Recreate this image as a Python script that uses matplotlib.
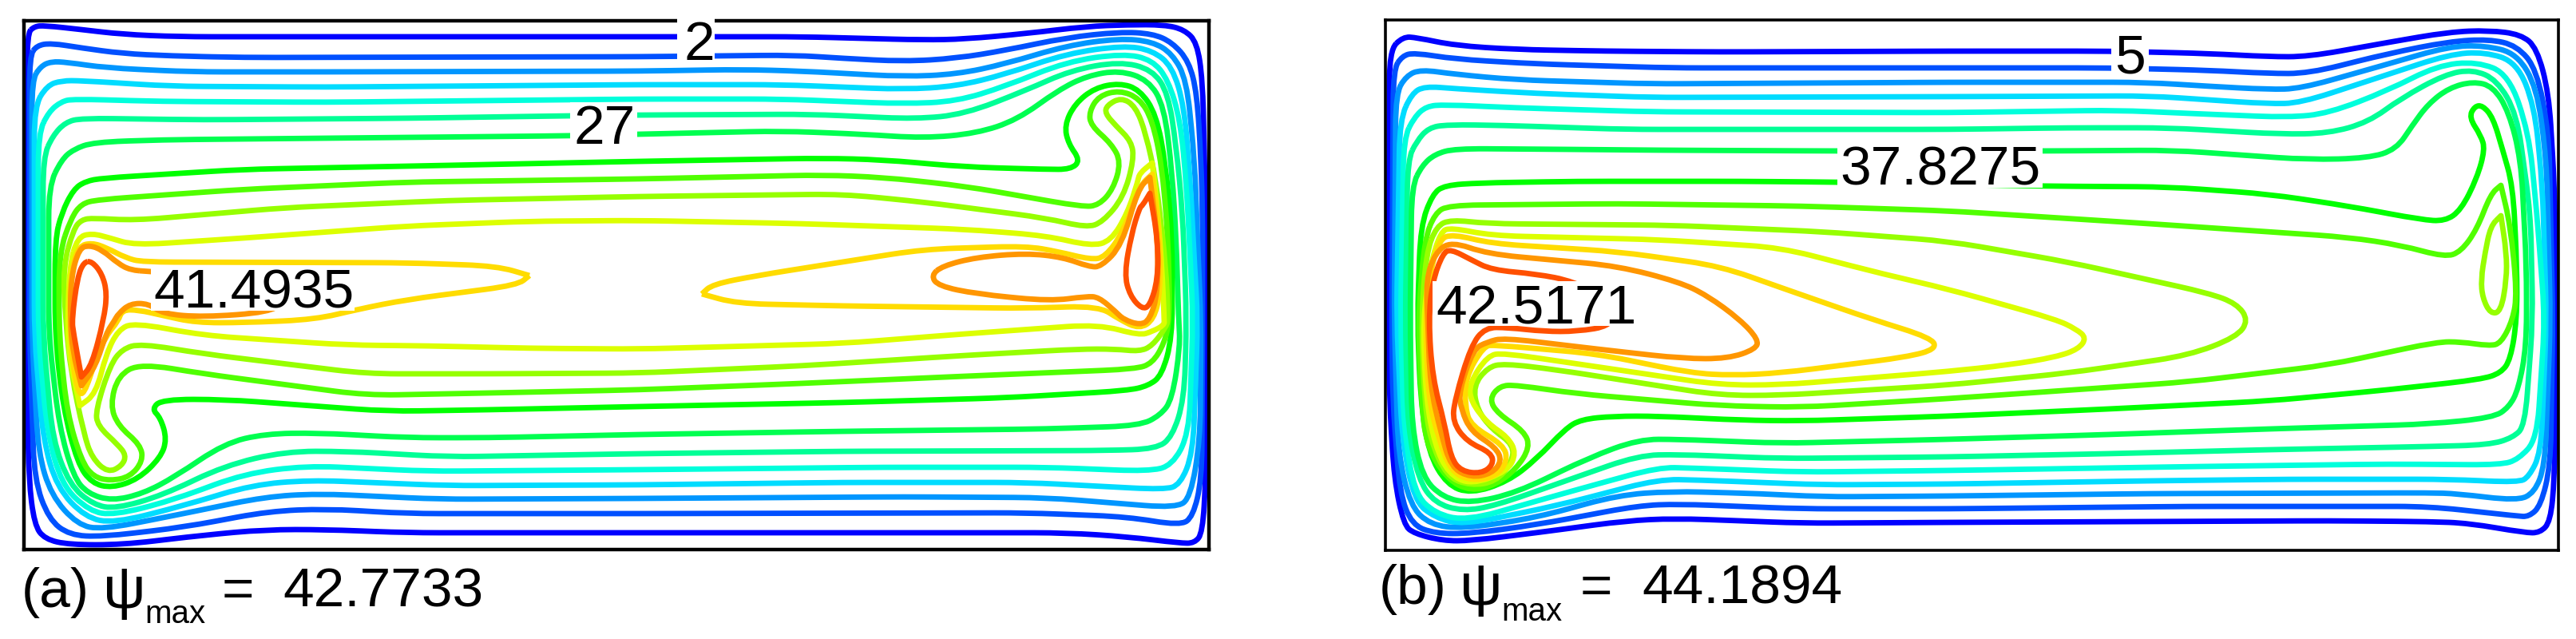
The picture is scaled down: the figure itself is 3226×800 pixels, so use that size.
import numpy as np
import matplotlib
matplotlib.use('Agg')
import matplotlib.pyplot as plt
from matplotlib.patches import Rectangle, PathPatch
from matplotlib.path import Path

plt.rcParams['font.family'] = ['Liberation Sans', 'DejaVu Sans']

# streamlines, in picture pixels (x right, y down)
# one colour per contour level, outermost first
level_colors = ['#0000ff', '#0050ff', '#0096ff', '#00dcff', '#00ffdc', '#00ff96', '#00ff50',
                '#00ff00', '#50ff00', '#96ff00', '#dcff00', '#ffdc00', '#ff9600', '#ff5000']

# panel (a)
a_line1 = [(34, 42), (43, 33), (56, 32), (102, 37), (153, 43), (224, 46), (1004, 46), (1080, 48), (1157, 50), (1208, 49),
           (1285, 42), (1361, 33), (1412, 31), (1458, 31), (1483, 37), (1499, 53), (1506, 100), (1510, 267), (1510, 600),
           (1506, 667), (1496, 680), (1478, 680), (1412, 672), (1335, 667), (800, 667), (510, 667), (408, 663), (332, 663),
           (255, 670), (153, 682), (87, 682), (56, 675), (43, 657), (36, 600), (34, 467)]
a_line2 = [(37, 70), (46, 57), (64, 54), (102, 60), (153, 67), (214, 70), (306, 72), (800, 71), (994, 69), (1055, 73),
           (1132, 77), (1198, 73), (1259, 63), (1336, 47), (1402, 40), (1443, 42), (1468, 53), (1489, 77), (1499, 117),
           (1504, 200), (1506, 267), (1506, 400), (1505, 600), (1494, 647), (1478, 658), (1412, 647), (1285, 642), (800, 643),
           (510, 643), (408, 637), (337, 640), (230, 660), (128, 672), (87, 670), (61, 650), (43, 600), (37, 420)]
a_line3 = [(40, 100), (51, 83), (64, 77), (84, 78), (133, 85), (240, 90), (408, 90), (800, 89), (928, 87), (1004, 89),
           (1132, 96), (1198, 93), (1259, 80), (1336, 57), (1402, 48), (1443, 52), (1468, 67), (1486, 100), (1496, 200),
           (1501, 333), (1504, 400), (1503, 550), (1491, 623), (1473, 636), (1310, 623), (1132, 622), (800, 624), (551, 625),
           (398, 618), (332, 622), (230, 643), (128, 663), (97, 657), (64, 620), (48, 567), (40, 420)]
a_line4 = [(43, 133), (59, 107), (77, 101), (102, 101), (214, 108), (408, 109), (800, 106), (978, 106), (1132, 112),
           (1198, 108), (1259, 93), (1336, 67), (1407, 57), (1443, 63), (1468, 83), (1483, 133), (1491, 233), (1496, 333),
           (1500, 400), (1494, 567), (1478, 607), (1458, 613), (1285, 604), (1055, 604), (800, 607), (561, 608), (388, 601),
           (316, 607), (230, 633), (143, 655), (107, 648), (71, 610), (54, 550), (43, 420)]
a_line5 = [(48, 167), (61, 140), (77, 127), (92, 124), (204, 127), (408, 128), (800, 124), (978, 124), (1132, 130),
           (1198, 127), (1259, 108), (1336, 77), (1407, 67), (1443, 75), (1463, 100), (1478, 150), (1486, 233), (1491, 333),
           (1494, 400), (1489, 543), (1468, 583), (1438, 590), (1310, 585), (1106, 585), (800, 588), (536, 590), (383, 583),
           (306, 593), (214, 627), (143, 645), (112, 640), (77, 607), (59, 540), (48, 420)]
a_line6 = [(54, 197), (66, 170), (82, 153), (102, 148), (255, 150), (510, 148), (714, 145), (800, 144), (1014, 143),
           (1147, 149), (1208, 143), (1285, 113), (1341, 88), (1402, 77), (1443, 87), (1463, 117), (1473, 183), (1481, 267),
           (1486, 400), (1483, 500), (1468, 547), (1448, 562), (1387, 564), (1055, 565), (800, 568), (561, 572), (434, 565),
           (357, 565), (281, 583), (204, 620), (145, 637), (117, 632), (87, 607), (66, 550), (54, 420)]
a_line7 = [(61, 233), (77, 200), (92, 187), (117, 178), (204, 175), (510, 172), (714, 170), (800, 168), (978, 164),
           (1080, 168), (1157, 173), (1223, 167), (1274, 150), (1325, 113), (1361, 95), (1402, 88), (1438, 100), (1458, 133),
           (1468, 217), (1473, 300), (1476, 400), (1478, 433), (1468, 500), (1453, 520), (1427, 533), (1310, 537), (1055, 540),
           (800, 544), (612, 548), (510, 548), (398, 542), (332, 543), (281, 555), (219, 597), (179, 618), (140, 627),
           (110, 618), (92, 597), (74, 533), (61, 420)]
a_line8 = [(69, 300), (77, 267), (92, 237), (107, 227), (128, 223), (306, 212), (561, 207), (800, 202), (1030, 198),
           (1106, 200), (1208, 209), (1310, 212), (1341, 212), (1353, 201), (1338, 180), (1333, 157), (1346, 130), (1371, 110),
           (1402, 104), (1427, 112), (1448, 143), (1460, 207), (1468, 300), (1468, 423), (1455, 470), (1438, 483), (1412, 489),
           (1259, 498), (1055, 504), (800, 509), (612, 513), (485, 515), (281, 500), (203, 500), (190, 512), (201, 523),
           (209, 550), (201, 573), (173, 600), (140, 611), (115, 605), (97, 580), (79, 510), (69, 420)]
a_line9 = [(74, 317), (89, 273), (102, 255), (122, 250), (306, 237), (510, 228), (800, 224), (1030, 219), (1106, 222),
           (1208, 233), (1356, 259), (1376, 257), (1394, 237), (1404, 203), (1392, 180), (1366, 157), (1364, 140), (1376, 120),
           (1402, 113), (1427, 123), (1443, 150), (1455, 207), (1463, 300), (1465, 400), (1458, 430), (1443, 455), (1422, 462),
           (1208, 471), (1004, 480), (800, 488), (612, 492), (459, 495), (255, 468), (176, 455), (148, 470), (138, 507),
           (148, 533), (176, 557), (179, 577), (163, 597), (138, 602), (117, 597), (102, 577), (84, 517), (74, 420)]
a_line10 = [(79, 333), (92, 287), (102, 275), (117, 273), (168, 276), (357, 260), (561, 251), (800, 246), (1055, 243),
            (1157, 253), (1310, 273), (1361, 285), (1381, 278), (1407, 247), (1420, 200), (1417, 177), (1397, 157), (1384, 142),
            (1386, 132), (1404, 122), (1422, 133), (1435, 167), (1448, 227), (1460, 333), (1463, 400), (1460, 410), (1443, 433),
            (1427, 440), (1397, 437), (1351, 437), (1208, 445), (1004, 458), (800, 467), (612, 468), (459, 468), (255, 443),
            (176, 430), (153, 437), (138, 457), (120, 513), (122, 533), (148, 557), (158, 570), (153, 583), (135, 592),
            (115, 573), (105, 543), (89, 467), (82, 400)]
a_line11 = [(87, 333), (97, 297), (115, 292), (138, 298), (168, 307), (306, 298), (510, 283), (663, 277), (800, 276),
            (1004, 280), (1208, 287), (1310, 295), (1366, 308), (1391, 302), (1412, 267), (1425, 227), (1427, 217), (1443, 204),
            (1450, 267), (1455, 333), (1458, 400), (1458, 407), (1443, 415), (1427, 420), (1376, 406), (1208, 418), (1055, 430),
            (800, 437), (663, 436), (536, 433), (434, 432), (255, 420), (168, 404), (148, 413), (133, 443), (120, 493),
            (100, 508), (84, 433)]
a_line12_left = [(663, 345), (622, 333), (510, 329), (178, 328), (158, 323), (133, 310), (115, 304), (99, 308), (91, 333),
                 (87, 367), (89, 440), (97, 490), (105, 495), (120, 450), (133, 420), (148, 402), (153, 388), (173, 388),
                 (204, 395), (245, 404), (306, 404), (395, 400), (449, 387), (510, 375), (648, 357)]
a_line12_right = [(879, 368), (892, 356), (948, 345), (1055, 328), (1157, 312), (1285, 308), (1325, 315), (1366, 325),
                  (1384, 322), (1407, 290), (1427, 233), (1443, 218), (1453, 300), (1453, 367), (1445, 400), (1427, 412),
                  (1402, 400), (1376, 383), (1285, 386), (1055, 383), (922, 380)]
a_line13_left = [(186, 340), (163, 338), (148, 330), (128, 313), (112, 307), (99, 311), (89, 347), (88, 400), (91, 440),
                 (102, 483), (120, 458), (133, 417), (143, 402), (148, 393), (163, 380), (186, 380), (204, 393), (255, 397),
                 (337, 391), (357, 377), (306, 347)]
a_line13_right = [(1166, 345), (1180, 333), (1223, 322), (1285, 317), (1331, 322), (1364, 334), (1379, 334), (1405, 307),
                  (1425, 237), (1440, 222), (1450, 300), (1450, 367), (1440, 400), (1428, 407), (1407, 400), (1397, 390),
                  (1376, 372), (1361, 371), (1315, 377), (1223, 368), (1175, 358)]
a_line14_left = [(105, 328), (115, 327), (128, 343), (134, 367), (130, 400), (115, 457), (102, 472), (92, 417), (90, 400), (97, 347)]
a_line14_right = [(1431, 257), (1440, 242), (1450, 300), (1450, 350), (1440, 383), (1430, 387), (1415, 370), (1408, 343),
                  (1417, 293), (1427, 260)]

# panel (b)
b_line1 = [(1740, 63), (1757, 46), (1774, 47), (1822, 57), (1899, 62), (2011, 64), (2154, 65), (2440, 64), (2641, 64),
           (2766, 67), (2841, 71), (2891, 71), (2991, 53), (3067, 40), (3117, 38), (3157, 43), (3177, 60), (3192, 117),
           (3199, 233), (3202, 400), (3199, 600), (3194, 653), (3181, 667), (3162, 667), (3092, 655), (3042, 653), (2916, 652),
           (2440, 654), (2256, 655), (2179, 652), (2097, 649), (2036, 652), (1924, 667), (1842, 677), (1807, 677), (1771, 668),
           (1758, 657), (1746, 600), (1740, 500), (1739, 400)]
b_line2 = [(1745, 87), (1756, 70), (1771, 66), (1822, 74), (1924, 80), (2092, 85), (2440, 85), (2641, 85), (2766, 88),
           (2841, 92), (2891, 92), (2991, 67), (3067, 52), (3117, 49), (3152, 57), (3177, 87), (3192, 167), (3197, 400),
           (3194, 583), (3182, 633), (3167, 647), (3152, 646), (3042, 634), (2741, 634), (2440, 637), (2256, 637), (2102, 631),
           (2052, 633), (1924, 657), (1842, 668), (1797, 668), (1768, 657), (1753, 617), (1744, 500), (1743, 400)]
b_line3 = [(1748, 117), (1761, 95), (1779, 87), (1822, 93), (1899, 100), (2067, 105), (2440, 103), (2686, 103), (2766, 108),
           (2841, 112), (2881, 111), (2991, 80), (3067, 58), (3112, 57), (3152, 67), (3177, 110), (3189, 200), (3194, 400),
           (3187, 583), (3174, 617), (3152, 627), (3077, 618), (3042, 617), (2691, 618), (2440, 621), (2281, 622), (2204, 618),
           (2092, 615), (2026, 620), (1924, 648), (1832, 662), (1791, 657), (1766, 633), (1751, 567), (1746, 400)]
b_line4 = [(1753, 150), (1768, 117), (1784, 108), (1822, 111), (1924, 117), (2067, 122), (2440, 121), (2691, 120), (2766, 125),
           (2841, 130), (2881, 129), (2991, 93), (3067, 68), (3112, 65), (3152, 78), (3174, 133), (3184, 233), (3189, 400),
           (3182, 567), (3167, 597), (3154, 604), (3067, 600), (2866, 600), (2691, 602), (2440, 606), (2281, 607), (2128, 601),
           (2077, 600), (1950, 633), (1832, 657), (1797, 648), (1771, 627), (1756, 550), (1749, 400)]
b_line5 = [(1758, 173), (1771, 147), (1786, 133), (1809, 131), (1899, 135), (2067, 140), (2440, 141), (2651, 138), (2741, 142),
           (2866, 147), (2916, 142), (2991, 113), (3052, 82), (3102, 77), (3142, 93), (3167, 167), (3177, 267), (3187, 400),
           (3177, 550), (3154, 575), (3132, 582), (2991, 581), (2756, 584), (2440, 589), (2256, 591), (2118, 586), (2077, 585),
           (1975, 613), (1837, 652), (1797, 643), (1771, 617), (1758, 533), (1754, 400)]
b_line6 = [(1763, 200), (1774, 177), (1789, 160), (1812, 156), (1883, 157), (2036, 162), (2440, 162), (2590, 160), (2716, 160),
           (2856, 168), (2916, 167), (2966, 153), (3007, 123), (3062, 93), (3097, 87), (3127, 100), (3152, 143), (3169, 267),
           (3172, 400), (3162, 533), (3147, 548), (3117, 557), (3042, 559), (2841, 563), (2641, 568), (2440, 572), (2230, 574),
           (2102, 569), (2052, 570), (1975, 597), (1873, 633), (1832, 640), (1797, 630), (1776, 600), (1763, 533), (1760, 400)]
b_line7 = [(1768, 233), (1781, 207), (1797, 193), (1822, 186), (1965, 187), (2077, 188), (2300, 189), (2560, 189), (2720, 188),
           (2891, 200), (2966, 198), (3001, 187), (3021, 157), (3041, 130), (3067, 110), (3097, 102), (3122, 108), (3142, 140),
           (3157, 200), (3164, 333), (3164, 433), (3154, 487), (3142, 510), (3122, 523), (3042, 531), (2841, 537), (2641, 544),
           (2440, 550), (2230, 555), (2102, 550), (2052, 550), (1990, 573), (1899, 617), (1842, 630), (1807, 623), (1781, 597),
           (1768, 533), (1766, 400)]
b_line8 = [(1779, 283), (1794, 243), (1809, 232), (1853, 229), (1975, 227), (2179, 227), (2300, 228), (2560, 233), (2716, 234),
           (2841, 243), (2941, 258), (3032, 275), (3062, 277), (3082, 263), (3102, 223), (3112, 187), (3107, 170), (3092, 147),
           (3099, 133), (3109, 132), (3122, 147), (3134, 187), (3147, 233), (3152, 333), (3152, 400), (3144, 450), (3132, 467),
           (3107, 475), (2991, 488), (2841, 502), (2641, 512), (2440, 521), (2256, 527), (2179, 526), (2077, 521), (2021, 521),
           (1980, 525), (1960, 537), (1924, 575), (1888, 603), (1842, 618), (1812, 607), (1789, 567), (1779, 500), (1775, 400)]
b_line9 = [(1784, 300), (1797, 267), (1814, 257), (2026, 255), (2256, 258), (2440, 264), (2691, 280), (2941, 297), (3007, 307),
           (3062, 322), (3082, 315), (3102, 287), (3119, 243), (3132, 232), (3144, 283), (3152, 367), (3147, 400), (3132, 430),
           (3117, 433), (3082, 428), (3052, 428), (2916, 457), (2741, 478), (2440, 499), (2256, 510), (2154, 508), (1975, 493),
           (1899, 482), (1878, 483), (1865, 500), (1876, 518), (1909, 540), (1916, 560), (1899, 587), (1873, 607), (1842, 615),
           (1812, 600), (1786, 557), (1780, 500), (1776, 400)]
b_line10 = [(1786, 317), (1799, 283), (1817, 275), (1863, 280), (2092, 282), (2281, 290), (2440, 302), (2590, 328), (2766, 367),
            (2801, 380), (2816, 401), (2801, 422), (2741, 445), (2590, 467), (2440, 482), (2230, 495), (2154, 495), (1950, 463),
            (1883, 455), (1863, 460), (1845, 483), (1850, 513), (1868, 537), (1896, 557), (1893, 580), (1873, 603), (1842, 608),
            (1812, 597), (1791, 550), (1784, 500), (1780, 400)]
b_line10_lobe = [(3119, 283), (3132, 270), (3139, 317), (3139, 350), (3132, 390), (3119, 393), (3109, 373), (3107, 350), (3112, 317)]
b_line11 = [(1791, 333), (1804, 290), (1817, 285), (1868, 295), (2077, 300), (2230, 310), (2358, 343), (2440, 362), (2575, 400),
            (2600, 412), (2613, 423), (2603, 437), (2575, 447), (2515, 457), (2440, 465), (2230, 482), (2154, 482), (2026, 463),
            (1883, 442), (1863, 445), (1840, 480), (1842, 503), (1863, 530), (1888, 547), (1899, 567), (1888, 590), (1842, 607),
            (1814, 593), (1797, 557), (1786, 500), (1782, 400)]
b_line12 = [(1789, 350), (1802, 300), (1819, 293), (1868, 305), (2026, 315), (2154, 333), (2230, 360), (2345, 400), (2419, 423),
            (2425, 437), (2388, 447), (2230, 467), (2169, 470), (2118, 467), (2000, 443), (1873, 432), (1858, 433), (1835, 473),
            (1835, 510), (1842, 533), (1883, 557), (1888, 577), (1873, 597), (1842, 602), (1817, 590), (1802, 550), (1789, 500),
            (1785, 400)]
b_line13 = [(1786, 350), (1797, 317), (1817, 302), (1863, 318), (2026, 333), (2103, 353), (2138, 370), (2179, 400), (2202, 425),
            (2199, 437), (2164, 449), (2108, 449), (2000, 437), (1883, 423), (1863, 428), (1845, 437), (1827, 490), (1830, 513),
            (1842, 540), (1873, 560), (1881, 577), (1868, 593), (1842, 598), (1817, 585), (1804, 540), (1791, 483), (1788, 400)]
b_line14 = [(1794, 352), (1807, 317), (1817, 312), (1842, 325), (1868, 338), (1924, 343), (1970, 352), (2030, 380), (2018, 408),
            (1975, 415), (1934, 415), (1888, 410), (1860, 410), (1842, 433), (1822, 500), (1819, 528), (1837, 553), (1868, 567),
            (1870, 582), (1855, 593), (1830, 590), (1817, 573), (1809, 530), (1794, 473), (1789, 400)]

# (line, colour index)
a_lines = [(a_line1, 0), (a_line2, 1), (a_line3, 2), (a_line4, 3), (a_line5, 4), (a_line6, 5), (a_line7, 6), (a_line8, 7),
           (a_line9, 8), (a_line10, 9), (a_line11, 10), (a_line12_left, 11), (a_line12_right, 11), (a_line13_left, 12),
           (a_line13_right, 12), (a_line14_left, 13), (a_line14_right, 13)]
b_lines = [(b_line1, 0), (b_line2, 1), (b_line3, 2), (b_line4, 3), (b_line5, 4), (b_line6, 5), (b_line7, 6), (b_line8, 7),
           (b_line9, 8), (b_line10, 9), (b_line10_lobe, 9), (b_line11, 10), (b_line12, 11), (b_line13, 12), (b_line14, 13)]

# text, text x, baseline y, white box x0, y0, x1, y1
a_labels = [('2', 856, 75, 848, 21, 895, 78), ('27', 718, 180, 714, 128, 798, 183), ('41.4935', 192, 385, 189, 333, 444, 389)]
b_labels = [('5', 2648, 91, 2644, 40, 2691, 93), ('37.8275', 2304, 232, 2301, 180, 2558, 235), ('42.5171', 1798, 405, 1794, 352, 2039, 408)]

# text, x, baseline y, font size
a_caption = [('(a)', 27, 760, 50), ('\u03c8', 129, 761, 54), ('max', 181, 780, 29), ('=', 278, 760, 50), ('42.7733', 354, 760, 50)]
b_caption = [('(b)', 1727, 756, 50), ('\u03c8', 1828, 757, 54), ('max', 1880, 777, 29), ('=', 1979, 756, 50), ('44.1894', 2056, 756, 50)]

W, H = 3226, 800
LINE_W = 4.9


# closed path through the traced points, corners rounded, sharp tips kept
def rounded_path(pts, cut=40):
    pts = np.array(pts, dtype=float)
    n = len(pts)
    entry, leave = [], []
    for i in range(n):
        p = pts[i]
        u = pts[i - 1] - p
        v = pts[(i + 1) % n] - p
        lu, lv = np.hypot(*u), np.hypot(*v)
        if np.dot(u, v) / (lu * lv) > 0.3:   # tip
            entry.append(p)
            leave.append(p)
        else:
            entry.append(p + u / lu * min(cut, lu / 2))
            leave.append(p + v / lv * min(cut, lv / 2))
    verts = [leave[0]]
    codes = [Path.MOVETO]
    for i in list(range(1, n)) + [0]:
        verts += [entry[i], pts[i], leave[i]]
        codes += [Path.LINETO, Path.CURVE3, Path.CURVE3]
    return Path(verts, codes)


def draw_panel(frame, lines, labels, caption, frame_w):
    x0, y0, x1, y1 = frame
    ax = fig.add_axes([x0 / W, 1 - y1 / H, (x1 - x0) / W, (y1 - y0) / H])
    ax.set_xlim(x0, x1)
    ax.set_ylim(y1, y0)
    ax.set_xticks([])
    ax.set_yticks([])
    for s in ax.spines.values():
        s.set_linewidth(frame_w)
        s.set_capstyle('projecting')

    for pts, c in lines:
        ax.add_patch(PathPatch(rounded_path(pts), fc='none', ec=level_colors[c], lw=LINE_W, joinstyle='round', zorder=2))

    # contour labels sit in white boxes that cut the lines
    for txt, tx, ty, bx0, by0, bx1, by1 in labels:
        ax.add_patch(Rectangle((bx0, by0), bx1 - bx0, by1 - by0, fc='white', ec='none', zorder=5, clip_on=False))
        ax.text(tx, ty, txt, fontsize=50, ha='left', va='baseline', zorder=6, clip_on=False)

    for txt, tx, ty, fs in caption:
        ax.text(tx, ty, txt, fontsize=fs, ha='left', va='baseline', clip_on=False)


fig = plt.figure(figsize=(W / 100, H / 100), dpi=100)
draw_panel((29.5, 25.7, 1514, 688.3), a_lines, a_labels, a_caption, 3.2)
draw_panel((1735, 25, 3204, 689), b_lines, b_labels, b_caption, 2.6)
fig.savefig('out.png', dpi=100)
